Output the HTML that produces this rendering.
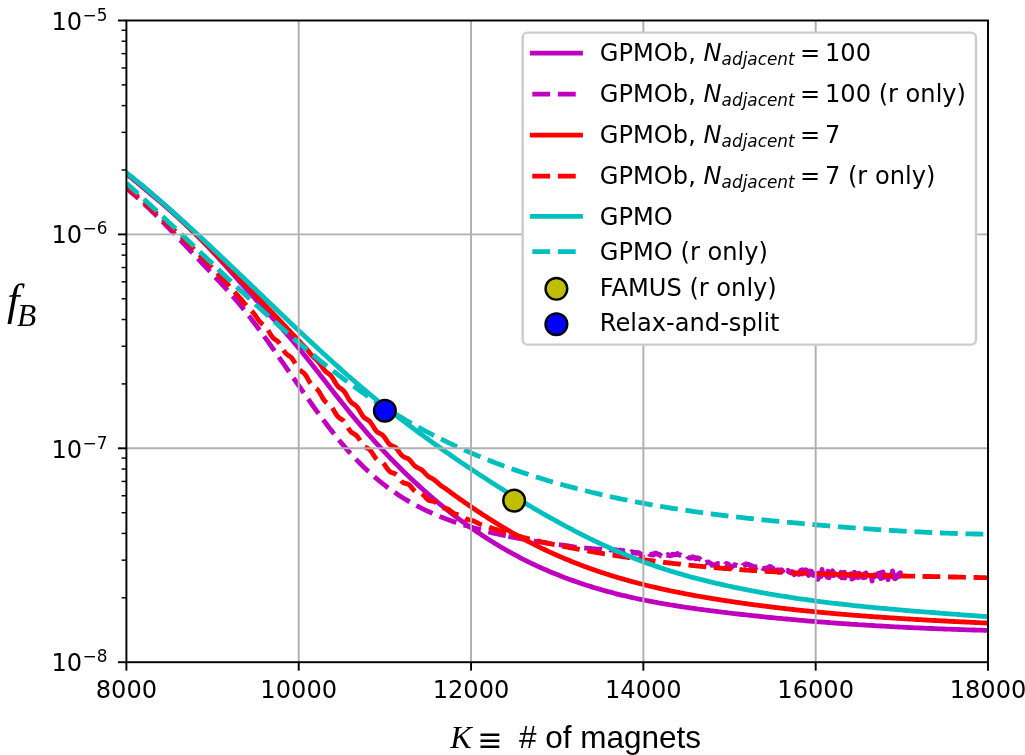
<!DOCTYPE html>
<html lang="en"><head><meta charset="utf-8"><title>f_B vs K</title>
<style>html,body{margin:0;padding:0;background:#fff;}svg{display:block;}text{font-family:"DejaVu Sans","Liberation Sans",sans-serif;fill:#000;}.ob{font-style:oblique;}.ser{font-family:"Liberation Serif","DejaVu Serif",serif;font-style:italic;}.hel{font-family:"Liberation Sans","DejaVu Sans",sans-serif;}</style></head><body>
<svg width="1025" height="755" viewBox="0 0 1025 755">
<rect width="1025" height="755" fill="#fff"/>
<defs><clipPath id="ax"><rect x="126.4" y="20.5" width="861.6" height="641.7"/></clipPath></defs>
<g clip-path="url(#ax)" fill="none" stroke-width="4.83" stroke-linejoin="round">
<path d="M126.4 173.7 L128.4 175.4 L130.4 177.0 L132.4 178.7 L134.4 180.3 L136.4 182.0 L138.4 183.7 L140.4 185.3 L142.4 187.0 L144.4 188.6 L146.4 190.3 L148.4 191.9 L150.4 193.6 L152.4 195.3 L154.4 197.0 L156.4 198.6 L158.4 200.3 L160.4 202.0 L162.4 203.7 L164.4 205.4 L166.4 207.2 L168.4 208.9 L170.4 210.7 L172.4 212.4 L174.4 214.2 L176.4 216.0 L178.4 217.8 L180.4 219.6 L182.4 221.4 L184.4 223.3 L186.4 225.2 L188.4 227.1 L190.4 229.0 L192.4 230.9 L194.4 232.8 L196.4 234.8 L198.4 236.8 L200.4 238.8 L202.4 240.9 L204.4 242.9 L206.4 245.0 L208.4 247.1 L210.4 249.2 L212.4 251.4 L214.4 253.5 L216.4 255.7 L218.4 257.9 L220.4 260.1 L222.4 262.3 L224.4 264.5 L226.4 266.7 L228.4 268.9 L230.4 271.1 L232.4 273.4 L234.4 275.6 L236.4 277.9 L238.4 280.1 L240.4 282.3 L242.4 284.6 L244.4 286.8 L246.4 289.1 L248.4 291.3 L250.4 293.5 L252.4 295.7 L254.4 297.9 L256.4 300.2 L258.4 302.4 L260.4 304.6 L262.4 306.8 L264.4 309.0 L266.4 311.2 L268.4 313.4 L270.4 315.6 L272.4 317.8 L274.4 320.0 L276.4 322.2 L278.4 324.5 L280.4 326.7 L282.4 329.0 L284.4 331.3 L286.4 333.6 L288.4 335.9 L290.4 338.2 L292.4 340.5 L294.4 342.9 L296.4 345.3 L298.4 347.7 L300.4 350.1 L302.4 352.5 L304.4 355.0 L306.4 357.5 L308.4 360.0 L310.4 362.5 L312.4 365.0 L314.4 367.5 L316.4 370.1 L318.4 372.6 L320.4 375.2 L322.4 377.8 L324.4 380.3 L326.4 382.9 L328.4 385.5 L330.4 388.0 L332.4 390.6 L334.4 393.2 L336.4 395.7 L338.4 398.2 L340.4 400.8 L342.4 403.3 L344.4 405.8 L346.4 408.3 L348.4 410.7 L350.4 413.2 L352.4 415.6 L354.4 418.0 L356.4 420.4 L358.4 422.8 L360.4 425.1 L362.4 427.4 L364.4 429.8 L366.4 432.1 L368.4 434.3 L370.4 436.6 L372.4 438.8 L374.4 441.1 L376.4 443.3 L378.4 445.4 L380.4 447.6 L382.4 449.8 L384.4 451.9 L386.4 454.0 L388.4 456.1 L390.4 458.2 L392.4 460.2 L394.4 462.3 L396.4 464.3 L398.4 466.3 L400.4 468.3 L402.4 470.3 L404.4 472.2 L406.4 474.2 L408.4 476.1 L410.4 478.0 L412.4 479.9 L414.4 481.7 L416.4 483.6 L418.4 485.4 L420.4 487.2 L422.4 489.0 L424.4 490.8 L426.4 492.6 L428.4 494.3 L430.4 496.1 L432.4 497.8 L434.4 499.5 L436.4 501.2 L438.4 502.8 L440.4 504.5 L442.4 506.1 L444.4 507.7 L446.4 509.3 L448.4 510.9 L450.4 512.5 L452.4 514.0 L454.4 515.6 L456.4 517.1 L458.4 518.6 L460.4 520.1 L462.4 521.6 L464.4 523.0 L466.4 524.5 L468.4 525.9 L470.4 527.3 L472.4 528.7 L474.4 530.1 L476.4 531.5 L478.4 532.8 L480.4 534.1 L482.4 535.5 L484.4 536.8 L486.4 538.1 L488.4 539.3 L490.4 540.6 L492.4 541.8 L494.4 543.1 L496.4 544.3 L498.4 545.5 L500.4 546.7 L502.4 547.9 L504.4 549.0 L506.4 550.2 L508.4 551.3 L510.4 552.4 L512.4 553.5 L514.4 554.6 L516.4 555.7 L518.4 556.7 L520.4 557.8 L522.4 558.8 L524.4 559.8 L526.4 560.8 L528.4 561.8 L530.4 562.8 L532.4 563.8 L534.4 564.7 L536.4 565.7 L538.4 566.6 L540.4 567.5 L542.4 568.4 L544.4 569.3 L546.4 570.1 L548.4 571.0 L550.4 571.9 L552.4 572.7 L554.4 573.5 L556.4 574.3 L558.4 575.1 L560.4 575.9 L562.4 576.7 L564.4 577.5 L566.4 578.2 L568.4 579.0 L570.4 579.7 L572.4 580.4 L574.4 581.1 L576.4 581.8 L578.4 582.5 L580.4 583.2 L582.4 583.9 L584.4 584.5 L586.4 585.2 L588.4 585.8 L590.4 586.4 L592.4 587.1 L594.4 587.7 L596.4 588.3 L598.4 588.9 L600.4 589.4 L602.4 590.0 L604.4 590.6 L606.4 591.1 L608.4 591.7 L610.4 592.2 L612.4 592.7 L614.4 593.3 L616.4 593.8 L618.4 594.3 L620.4 594.8 L622.4 595.3 L624.4 595.7 L626.4 596.2 L628.4 596.7 L630.4 597.1 L632.4 597.6 L634.4 598.0 L636.4 598.5 L638.4 598.9 L640.4 599.3 L642.4 599.7 L644.4 600.1 L646.4 600.5 L648.4 600.9 L650.4 601.3 L652.4 601.7 L654.4 602.1 L656.4 602.4 L658.4 602.8 L660.4 603.2 L662.4 603.5 L664.4 603.9 L666.4 604.2 L668.4 604.5 L670.4 604.9 L672.4 605.2 L674.4 605.5 L676.4 605.8 L678.4 606.2 L680.4 606.5 L682.4 606.8 L684.4 607.1 L686.4 607.4 L688.4 607.7 L690.4 608.0 L692.4 608.2 L694.4 608.5 L696.4 608.8 L698.4 609.1 L700.4 609.3 L702.4 609.6 L704.4 609.9 L706.4 610.1 L708.4 610.4 L710.4 610.7 L712.4 610.9 L714.4 611.2 L716.4 611.4 L718.4 611.7 L720.4 611.9 L722.4 612.2 L724.4 612.4 L726.4 612.6 L728.4 612.9 L730.4 613.1 L732.4 613.4 L734.4 613.6 L736.4 613.8 L738.4 614.0 L740.4 614.3 L742.4 614.5 L744.4 614.7 L746.4 614.9 L748.4 615.2 L750.4 615.4 L752.4 615.6 L754.4 615.8 L756.4 616.0 L758.4 616.2 L760.4 616.5 L762.4 616.7 L764.4 616.9 L766.4 617.1 L768.4 617.3 L770.4 617.5 L772.4 617.7 L774.4 617.9 L776.4 618.1 L778.4 618.3 L780.4 618.4 L782.4 618.6 L784.4 618.8 L786.4 619.0 L788.4 619.2 L790.4 619.4 L792.4 619.6 L794.4 619.7 L796.4 619.9 L798.4 620.1 L800.4 620.3 L802.4 620.4 L804.4 620.6 L806.4 620.8 L808.4 621.0 L810.4 621.1 L812.4 621.3 L814.4 621.4 L816.4 621.6 L818.4 621.8 L820.4 621.9 L822.4 622.1 L824.4 622.2 L826.4 622.4 L828.4 622.5 L830.4 622.7 L832.4 622.8 L834.4 623.0 L836.4 623.1 L838.4 623.3 L840.4 623.4 L842.4 623.6 L844.4 623.7 L846.4 623.9 L848.4 624.0 L850.4 624.1 L852.4 624.3 L854.4 624.4 L856.4 624.5 L858.4 624.7 L860.4 624.8 L862.4 624.9 L864.4 625.0 L866.4 625.2 L868.4 625.3 L870.4 625.4 L872.4 625.5 L874.4 625.6 L876.4 625.8 L878.4 625.9 L880.4 626.0 L882.4 626.1 L884.4 626.2 L886.4 626.3 L888.4 626.4 L890.4 626.6 L892.4 626.7 L894.4 626.8 L896.4 626.9 L898.4 627.0 L900.4 627.1 L902.4 627.2 L904.4 627.3 L906.4 627.4 L908.4 627.5 L910.4 627.6 L912.4 627.7 L914.4 627.8 L916.4 627.8 L918.4 627.9 L920.4 628.0 L922.4 628.1 L924.4 628.2 L926.4 628.3 L928.4 628.4 L930.4 628.5 L932.4 628.5 L934.4 628.6 L936.4 628.7 L938.4 628.8 L940.4 628.9 L942.4 628.9 L944.4 629.0 L946.4 629.1 L948.4 629.2 L950.4 629.2 L952.4 629.3 L954.4 629.4 L956.4 629.4 L958.4 629.5 L960.4 629.6 L962.4 629.6 L964.4 629.7 L966.4 629.8 L968.4 629.8 L970.4 629.9 L972.4 630.0 L974.4 630.0 L976.4 630.1 L978.4 630.1 L980.4 630.2 L982.4 630.2 L984.4 630.3 L986.4 630.4 L988.0 630.4" stroke="#bf00bf" stroke-linecap="square"/>
<path d="M126.4 188.3 L128.4 189.9 L130.4 191.6 L132.4 193.3 L134.4 195.0 L136.4 196.8 L138.4 198.5 L140.4 200.3 L142.4 202.2 L144.4 204.0 L146.4 205.9 L148.4 207.8 L150.4 209.7 L152.4 211.7 L154.4 213.6 L156.4 215.6 L158.4 217.6 L160.4 219.6 L162.4 221.6 L164.4 223.6 L166.4 225.7 L168.4 227.7 L170.4 229.8 L172.4 231.9 L174.4 233.9 L176.4 236.0 L178.4 238.1 L180.4 240.2 L182.4 242.3 L184.4 244.4 L186.4 246.5 L188.4 248.6 L190.4 250.8 L192.4 252.9 L194.4 255.0 L196.4 257.1 L198.4 259.2 L200.4 261.4 L202.4 263.5 L204.4 265.6 L206.4 267.7 L208.4 269.9 L210.4 272.0 L212.4 274.1 L214.4 276.3 L216.4 278.4 L218.4 280.5 L220.4 282.7 L222.4 284.8 L224.4 286.9 L226.4 289.1 L228.4 291.3 L230.4 293.5 L232.4 295.8 L234.4 298.1 L236.4 300.4 L238.4 302.8 L240.4 305.2 L242.4 307.7 L244.4 310.2 L246.4 312.7 L248.4 315.3 L250.4 317.8 L252.4 320.5 L254.4 323.1 L256.4 325.8 L258.4 328.5 L260.4 331.2 L262.4 333.9 L264.4 336.7 L266.4 339.4 L268.4 342.2 L270.4 345.0 L272.4 347.9 L274.4 350.7 L276.4 353.6 L278.4 356.4 L280.4 359.3 L282.4 362.1 L284.4 365.0 L286.4 367.9 L288.4 370.8 L290.4 373.7 L292.4 376.5 L294.4 379.4 L296.4 382.3 L298.4 385.2 L300.4 388.0 L302.4 390.9 L304.4 393.7 L306.4 396.6 L308.4 399.4 L310.4 402.2 L312.4 405.0 L314.4 407.8 L316.4 410.6 L318.4 413.3 L320.4 416.0 L322.4 418.7 L324.4 421.4 L326.4 424.0 L328.4 426.7 L330.4 429.3 L332.4 431.8 L334.4 434.4 L336.4 436.9 L338.4 439.3 L340.4 441.7 L342.4 444.1 L344.4 446.5 L346.4 448.8 L348.4 451.1 L350.4 453.3 L352.4 455.5 L354.4 457.6 L356.4 459.7 L358.4 461.8 L360.4 463.8 L362.4 465.8 L364.4 467.7 L366.4 469.6 L368.4 471.5 L370.4 473.3 L372.4 475.1 L374.4 476.8 L376.4 478.5 L378.4 480.2 L380.4 481.8 L382.4 483.4 L384.4 484.9 L386.4 486.5 L388.4 488.0 L390.4 489.4 L392.4 490.8 L394.4 492.2 L396.4 493.6 L398.4 494.9 L400.4 496.2 L402.4 497.5 L404.4 498.7 L406.4 499.9 L408.4 501.1 L410.4 502.3 L412.4 503.4 L414.4 504.5 L416.4 505.6 L418.4 506.6 L420.4 507.7 L422.4 508.7 L424.4 509.6 L426.4 510.6 L428.4 511.5 L430.4 512.4 L432.4 513.3 L434.4 514.2 L436.4 515.0 L438.4 515.9 L440.4 516.7 L442.4 517.5 L444.4 518.3 L446.4 519.0 L448.4 519.7 L450.4 520.5 L452.4 521.2 L454.4 521.9 L456.4 522.5 L458.4 523.2 L460.4 523.9 L462.4 524.5 L464.4 525.1 L466.4 525.7 L468.4 526.3 L470.4 526.9 L472.4 527.5 L474.4 528.1 L476.4 528.6 L478.4 529.2 L480.4 529.7 L482.4 530.3 L484.4 530.8 L486.4 531.3 L488.4 531.8 L490.4 532.3 L492.4 532.8 L494.4 533.3 L496.4 533.7 L498.4 534.2 L500.4 534.6 L502.4 535.1 L504.4 535.5 L506.4 536.0" stroke="#bf00bf" stroke-dasharray="17.85 7.72" stroke-dashoffset="2"/>
<path d="M508.4 536.4 L510.4 536.8 L512.4 537.2 L514.4 537.6 L516.4 538.0 L518.4 538.4 L520.4 538.7 L522.4 539.1 L524.4 539.5 L526.4 539.8 L528.4 540.2 L530.4 540.5 L532.4 540.8 L534.4 541.2 L536.4 541.5 L538.4 541.8 L540.4 542.1 L542.4 542.4 L544.4 542.7 L546.4 543.0 L548.4 543.3 L550.4 543.5 L552.4 543.8 L554.4 544.1 L556.4 544.3 L558.4 544.6 L560.4 544.8 L562.4 545.1 L564.4 545.4 L566.4 545.7 L568.4 546.0 L570.4 546.3 L572.4 546.6 L574.4 546.9 L576.4 547.1 L578.4 547.4 L580.4 547.6 L582.4 547.8 L584.4 548.0 L586.4 548.2 L588.4 548.4 L590.4 548.5 L592.4 548.7 L594.4 548.8 L596.4 549.0 L598.4 549.1 L600.0 549.2 L600.5 549.3 L601.0 549.3 L601.5 549.3 L602.0 549.4 L602.5 549.4 L603.0 549.4 L603.5 549.5 L604.0 549.5 L604.5 549.5 L605.0 549.6 L605.5 549.6 L606.0 549.5 L606.5 549.7 L607.0 549.4 L607.5 549.6 L608.0 549.7 L608.5 549.6 L609.0 549.7 L609.5 549.6 L610.0 549.7 L610.5 550.1 L611.0 549.8 L611.5 549.8 L612.0 550.0 L612.5 549.8 L613.0 550.0 L613.5 550.0 L614.0 550.2 L614.5 549.7 L615.0 550.1 L615.5 550.0 L616.0 549.9 L616.5 550.3 L617.0 550.0 L617.5 550.5 L618.0 550.3 L618.5 550.4 L619.0 550.3 L619.5 550.5 L620.0 550.0 L620.5 550.4 L621.0 550.3 L621.5 550.6 L622.0 550.6 L622.5 550.8 L623.0 550.5 L623.5 551.2 L624.0 551.4 L624.5 550.8 L625.0 550.8 L625.5 550.9 L626.0 551.3 L626.5 551.5 L627.0 550.7 L627.5 551.0 L628.0 550.9 L628.5 551.0 L629.0 550.9 L629.5 551.6 L630.0 551.2 L630.5 552.2 L631.0 552.1 L631.5 551.6 L632.0 551.7 L632.5 552.0 L633.0 552.8 L633.5 552.2 L634.0 552.1 L634.5 552.7 L635.0 552.9 L635.5 552.6 L636.0 553.3 L636.5 552.9 L637.0 553.0 L637.5 552.6 L638.0 553.0 L638.5 553.1 L639.0 552.7 L639.5 553.8 L640.0 553.5 L640.5 554.3 L641.0 554.1 L641.5 555.3 L642.0 554.8 L642.5 555.0 L643.0 555.0 L643.5 554.3 L644.0 553.9 L644.5 554.5 L645.0 554.8 L645.5 554.5 L646.0 554.7 L646.5 554.7 L647.0 553.9 L647.5 554.4 L648.0 554.8 L648.5 554.0 L649.0 553.6 L649.5 554.3 L650.0 554.3 L650.5 554.7 L651.0 554.4 L651.5 554.8 L652.0 554.0 L652.5 555.0 L653.0 555.1 L653.5 554.9 L654.0 553.8 L654.5 554.2 L655.0 553.0 L655.5 553.8 L656.0 553.6 L656.5 553.2 L657.0 553.7 L657.5 553.8 L658.0 554.4 L658.5 554.5 L659.0 554.9 L659.5 554.5 L660.0 555.0 L660.5 555.4 L661.0 555.8 L661.5 555.8 L662.0 556.3 L662.5 555.5 L663.0 555.6 L663.5 555.7 L664.0 555.4 L664.5 555.5 L665.0 555.1 L665.5 555.6 L666.0 554.9 L666.5 555.2 L667.0 554.8 L667.5 555.3 L668.0 554.5 L668.5 555.3 L669.0 555.1 L669.5 555.4 L670.0 555.8 L670.5 555.1 L671.0 554.9 L671.5 554.9 L672.0 555.2 L672.5 554.3 L673.0 554.8 L673.5 554.3 L674.0 554.3 L674.5 554.6 L675.0 554.8 L675.5 554.5 L676.0 554.5 L676.5 554.5 L677.0 554.3 L677.5 553.5 L678.0 554.2 L678.5 554.3 L679.0 554.7 L679.5 555.2 L680.0 554.9 L680.5 555.0 L681.0 554.9 L681.5 555.4 L682.0 555.6 L682.5 555.7 L683.0 554.8 L683.5 555.0 L684.0 555.1 L684.5 555.5 L685.0 555.0 L685.5 554.9 L686.0 555.1 L686.5 555.5 L687.0 555.8 L687.5 556.7 L688.0 557.1 L688.5 557.4 L689.0 557.9 L689.5 557.6 L690.0 558.0 L690.5 557.8 L691.0 557.8 L691.5 558.1 L692.0 557.5 L692.5 556.8 L693.0 557.3 L693.5 557.2 L694.0 557.1 L694.5 557.5 L695.0 558.4 L695.5 558.8 L696.0 558.3 L696.5 558.7 L697.0 558.7 L697.5 557.9 L698.0 558.4 L698.5 558.5 L699.0 558.8 L699.5 558.5 L700.0 559.1 L700.5 559.8 L701.0 560.0 L701.5 560.4 L702.0 559.9 L702.5 560.8 L703.0 560.7 L703.5 560.4 L704.0 561.5 L704.5 561.6 L705.0 562.3 L705.5 562.3 L706.0 562.8 L706.5 562.4 L707.0 562.0 L707.5 562.3 L708.0 562.1 L708.5 562.0 L709.0 562.8 L709.5 562.6 L710.0 563.0 L710.5 563.5 L711.0 563.6 L711.5 564.2 L712.0 565.3 L712.5 564.6 L713.0 565.0 L713.5 564.7 L714.0 564.9 L714.5 565.5 L715.0 565.1 L715.5 564.4 L716.0 564.4 L716.5 563.9 L717.0 563.7 L717.5 563.6 L718.0 563.5 L718.5 563.9 L719.0 564.1 L719.5 564.2 L720.0 564.1 L720.5 563.8 L721.0 564.3 L721.5 564.2 L722.0 564.9 L722.5 564.9 L723.0 565.1 L723.5 564.9 L724.0 564.4 L724.5 565.2 L725.0 565.1 L725.5 564.0 L726.0 564.3 L726.5 564.4 L727.0 563.6 L727.5 564.6 L728.0 564.1 L728.5 564.3 L729.0 565.6 L729.5 565.9 L730.0 566.1 L730.5 567.0 L731.0 566.2 L731.5 567.4 L732.0 566.4 L732.5 566.5 L733.0 565.9 L733.5 565.8 L734.0 565.7 L734.5 564.9 L735.0 565.3 L735.5 564.9 L736.0 564.9 L736.5 565.3 L737.0 565.3 L737.5 565.6 L738.0 566.4 L738.5 566.2 L739.0 566.7 L739.5 566.4 L740.0 565.9 L740.5 565.5 L741.0 565.8 L741.5 566.0 L742.0 565.9 L742.5 565.5 L743.0 566.0 L743.5 564.9 L744.0 564.7 L744.5 564.8 L745.0 565.2 L745.5 564.4 L746.0 563.8 L746.5 564.2 L747.0 564.3 L747.5 564.5 L748.0 564.2 L748.5 564.3 L749.0 564.7 L749.5 565.0 L750.0 565.5 L750.5 565.9 L751.0 565.2 L751.5 565.6 L752.0 566.0 L752.5 566.1 L753.0 566.6 L753.5 566.7 L754.0 566.8 L754.5 567.2 L755.0 566.9 L755.5 566.7 L756.0 566.7 L756.5 567.0 L757.0 567.1 L757.5 566.8 L758.0 567.6 L758.5 567.4 L759.0 567.1 L759.5 566.9 L760.0 566.7 L760.5 567.0 L761.0 568.0 L761.5 566.8 L762.0 567.9 L762.5 568.4 L763.0 568.4 L763.5 568.4 L764.0 569.0 L764.5 568.2 L765.0 568.9 L765.5 569.2 L766.0 567.9 L766.5 567.9 L767.0 568.2 L767.5 568.5 L768.0 568.6 L768.5 568.0 L769.0 567.0 L769.5 566.6 L770.0 567.2 L770.5 567.4 L771.0 566.7 L771.5 567.6 L772.0 568.2 L772.5 569.1 L773.0 568.2 L773.5 569.6 L774.0 568.7 L774.5 569.4 L775.0 569.7 L775.5 570.9 L776.0 572.3 L776.5 570.3 L777.0 570.8 L777.5 571.4 L778.0 569.8 L778.5 571.5 L779.0 570.0 L779.5 572.2 L780.0 572.0 L780.5 571.1 L781.0 569.8 L781.5 571.8 L782.0 570.5 L782.5 570.3 L783.0 570.7 L783.5 568.7 L784.0 570.5 L784.5 571.1 L785.0 570.6 L785.5 570.5 L786.0 569.7 L786.5 571.4 L787.0 571.1 L787.5 570.9 L788.0 570.4 L788.5 571.8 L789.0 572.2 L789.5 571.3 L790.0 571.9 L790.5 572.4 L791.0 572.9 L791.5 571.7 L792.0 571.6 L792.5 571.7 L793.0 572.7 L793.5 573.7 L794.0 574.6 L794.5 573.3 L795.0 574.3 L795.5 573.1 L796.0 575.8 L796.5 573.7 L797.0 574.4 L797.5 572.6 L798.0 572.7 L798.5 571.8 L799.0 574.5 L799.5 572.5 L800.0 571.7 L800.5 570.6 L801.0 571.0 L801.5 572.5 L802.0 573.9 L802.5 569.7 L803.0 570.3 L803.5 571.2 L804.0 570.6 L804.5 569.2 L805.0 571.7 L805.5 573.0 L806.0 569.8 L806.5 572.5 L807.0 573.6 L807.5 573.6 L808.0 571.5 L808.5 575.5 L809.0 572.9 L809.5 570.9 L810.0 573.8 L810.5 570.8 L811.0 574.2 L811.5 571.1 L812.0 574.5 L812.5 572.5 L813.0 575.3 L813.5 574.7 L814.0 574.3 L814.5 573.7 L815.0 575.4 L815.5 570.6 L816.0 574.2 L816.5 574.0 L817.0 574.1 L817.5 574.4 L818.0 579.4 L818.5 573.2 L819.0 574.5 L819.5 573.4 L820.0 576.1 L820.5 569.8 L821.0 576.6 L821.5 572.4 L822.0 569.5 L822.5 571.7 L823.0 573.3 L823.5 574.1 L824.0 573.8 L824.5 575.6 L825.0 574.3 L825.5 574.4 L826.0 570.6 L826.5 575.8 L827.0 576.9 L827.5 574.1 L828.0 571.2 L828.5 572.1 L829.0 577.9 L829.5 573.2 L830.0 572.9 L830.5 572.4 L831.0 575.4 L831.5 572.8 L832.0 572.2 L832.5 570.8 L833.0 573.5 L833.5 575.6 L834.0 573.2 L834.5 575.2 L835.0 573.7 L835.5 573.7 L836.0 573.8 L836.5 573.7 L837.0 576.0 L837.5 575.2 L838.0 573.4 L838.5 575.2 L839.0 574.9 L839.5 576.2 L840.0 575.6 L840.5 576.0 L841.0 572.2 L841.5 575.9 L842.0 577.9 L842.5 572.6 L843.0 578.6 L843.5 576.1 L844.0 575.2 L844.5 572.1 L845.0 578.0 L845.5 573.8 L846.0 574.6 L846.5 576.5 L847.0 573.1 L847.5 572.9 L848.0 572.2 L848.5 574.2 L849.0 575.5 L849.5 575.2 L850.0 575.4 L850.5 574.1 L851.0 575.3 L851.5 573.7 L852.0 579.2 L852.5 575.6 L853.0 571.1 L853.5 572.8 L854.0 578.1 L854.5 572.1 L855.0 574.1 L855.5 576.0 L856.0 573.1 L856.5 577.6 L857.0 578.9 L857.5 573.8 L858.0 577.7 L858.5 573.5 L859.0 573.2 L859.5 575.6 L860.0 575.6 L860.5 574.0 L861.0 577.0 L861.5 572.5 L862.0 573.9 L862.5 573.7 L863.0 577.6 L863.5 577.8 L864.0 577.7 L864.5 573.8 L865.0 576.7 L865.5 577.3 L866.0 573.0 L866.5 574.5 L867.0 577.5 L867.5 577.7 L868.0 576.9 L868.5 577.6 L869.0 577.3 L869.5 577.0 L870.0 576.5 L870.5 575.0 L871.0 576.2 L871.5 575.8 L872.0 581.1 L872.5 576.8 L873.0 576.0 L873.5 575.3 L874.0 575.3 L874.5 574.9 L875.0 576.4 L875.5 575.2 L876.0 576.9 L876.5 573.9 L877.0 576.2 L877.5 577.4 L878.0 573.5 L878.5 576.3 L879.0 576.7 L879.5 575.7 L880.0 575.4 L880.5 572.7 L881.0 578.7 L881.5 574.4 L882.0 573.7 L882.5 577.3 L883.0 572.0 L883.5 577.5 L884.0 576.3 L884.5 576.5 L885.0 575.0 L885.5 573.1 L886.0 571.9 L886.5 578.8 L887.0 575.1 L887.5 575.3 L888.0 579.7 L888.5 575.5 L889.0 576.4 L889.5 576.4 L890.0 576.6 L890.5 574.8 L891.0 575.7 L891.5 579.4 L892.0 578.3 L892.5 570.8 L893.0 572.9 L893.5 577.5 L894.0 576.6 L894.5 576.0 L895.0 578.8 L895.5 572.8 L896.0 578.4 L896.5 575.7 L897.0 576.2 L897.5 575.3 L898.0 576.3 L898.5 574.1 L899.0 573.6 L899.5 576.4 L900.0 575.3 L900.5 572.7 L901.0 578.1 L901.5 578.1 L902.0 578.7 L902.5 576.0 L903.0 576.7" stroke="#bf00bf" stroke-dasharray="17.85 7.72" stroke-dashoffset="0.0"/>
<path d="M126.4 173.4 L127.4 174.2 L128.4 174.9 L129.4 175.7 L130.4 176.5 L131.4 177.2 L132.4 178.0 L133.4 178.8 L134.4 179.6 L135.4 180.4 L136.4 181.2 L137.4 182.0 L138.4 182.8 L139.4 183.6 L140.4 184.4 L141.4 185.2 L142.4 186.0 L143.4 186.8 L144.4 187.6 L145.4 188.5 L146.4 189.3 L147.4 190.1 L148.4 191.0 L149.4 191.8 L150.4 192.7 L151.4 193.5 L152.4 194.4 L153.4 195.2 L154.4 196.1 L155.4 196.9 L156.4 197.8 L157.4 198.7 L158.4 199.5 L159.4 200.4 L160.4 201.3 L161.4 202.2 L162.4 203.1 L163.4 204.0 L164.4 204.8 L165.4 205.7 L166.4 206.6 L167.4 207.5 L168.4 208.4 L169.4 209.3 L170.4 210.3 L171.4 211.2 L172.4 212.1 L173.4 213.0 L174.4 213.9 L175.4 214.8 L176.4 215.8 L177.4 216.7 L178.4 217.6 L179.4 218.6 L180.4 219.5 L181.4 220.4 L182.4 221.4 L183.4 222.3 L184.4 223.3 L185.4 224.2 L186.4 225.2 L187.4 226.1 L188.4 227.1 L189.4 228.0 L190.4 229.0 L191.4 230.0 L192.4 230.9 L193.4 231.9 L194.4 232.9 L195.4 233.8 L196.4 234.8 L197.4 235.8 L198.4 236.8 L199.4 237.7 L200.4 238.7 L201.4 239.7 L202.4 240.7 L203.4 241.7 L204.4 242.7 L205.4 243.7 L206.4 244.6 L207.4 245.6 L208.4 246.6 L209.4 247.6 L210.4 248.6 L211.4 249.6 L212.4 250.6 L213.4 251.6 L214.4 252.7 L215.4 253.7 L216.4 254.7 L217.4 255.7 L218.4 256.7 L219.4 257.7 L220.4 258.7 L221.4 259.7 L222.4 260.8 L223.4 261.8 L224.4 262.8 L225.4 263.8 L226.4 264.9 L227.4 265.9 L228.4 266.9 L229.4 267.9 L230.4 269.0 L231.4 270.0 L232.4 271.0 L233.4 272.1 L234.4 273.1 L235.4 274.1 L236.4 275.2 L237.4 276.2 L238.4 277.2 L239.4 278.3 L240.4 279.3 L241.4 280.3 L242.4 281.4 L243.4 282.4 L244.4 283.5 L245.4 284.5 L246.4 285.5 L247.4 286.6 L248.4 287.6 L249.4 288.7 L250.4 289.7 L251.4 290.8 L252.4 291.8 L253.4 292.9 L254.4 293.9 L255.4 295.0 L256.4 296.0 L257.4 297.1 L258.4 298.1 L259.4 299.1 L260.4 300.2 L261.4 301.2 L262.4 302.3 L263.4 303.3 L264.4 304.4 L265.4 305.4 L266.4 306.5 L267.4 307.5 L268.4 308.6 L269.4 309.6 L270.4 310.7 L271.4 311.7 L272.4 312.8 L273.4 313.8 L274.4 314.9 L275.4 315.9 L276.4 317.0 L277.4 318.0 L278.4 319.1 L279.4 320.1 L280.4 321.2 L281.4 322.2 L282.4 323.3 L283.4 324.4 L284.4 325.4 L285.4 326.5 L286.4 327.5 L287.4 328.6 L288.4 329.6 L289.4 330.7 L290.4 331.8 L291.4 332.8 L292.4 333.9 L293.4 335.0 L294.4 336.0 L295.4 337.1 L296.4 338.2 L297.4 339.3 L298.4 340.3 L299.4 341.4 L300.4 342.5 L301.4 343.6 L302.4 344.6 L303.4 345.7 L304.4 346.7 L305.4 347.7 L306.4 348.8 L307.4 350.0 L308.4 351.2 L309.4 352.5 L310.4 353.7 L311.4 354.9 L312.4 356.0 L313.4 357.0 L314.4 357.9 L315.4 358.8 L316.4 359.7 L317.4 360.7 L318.4 361.7 L319.4 363.0 L320.4 364.4 L321.4 365.8 L322.4 367.3 L323.4 368.8 L324.4 370.1 L325.4 371.2 L326.4 372.1 L327.4 372.9 L328.4 373.6 L329.4 374.3 L330.4 375.2 L331.4 376.3 L332.4 377.7 L333.4 379.3 L334.4 381.0 L335.4 382.8 L336.4 384.4 L337.4 385.7 L338.4 386.8 L339.4 387.7 L340.4 388.3 L341.4 389.0 L342.4 389.7 L343.4 390.6 L344.4 391.8 L345.4 393.2 L346.4 394.9 L347.4 396.7 L348.4 398.4 L349.4 400.0 L350.4 401.4 L351.4 402.5 L352.4 403.3 L353.4 404.0 L354.4 404.6 L355.4 405.3 L356.4 406.2 L357.4 407.3 L358.4 408.7 L359.4 410.4 L360.4 412.1 L361.4 413.8 L362.4 415.4 L363.4 416.7 L364.4 417.7 L365.4 418.5 L366.4 419.1 L367.4 419.7 L368.4 420.3 L369.4 421.1 L370.4 422.2 L371.4 423.6 L372.4 425.1 L373.4 426.8 L374.4 428.4 L375.4 429.9 L376.4 431.1 L377.4 432.1 L378.4 432.7 L379.4 433.3 L380.4 433.7 L381.4 434.3 L382.4 435.0 L383.4 436.0 L384.4 437.2 L385.4 438.6 L386.4 440.2 L387.4 441.7 L388.4 443.1 L389.4 444.2 L390.4 445.0 L391.4 445.6 L392.4 446.0 L393.4 446.4 L394.4 446.8 L395.4 447.4 L396.4 448.3 L397.4 449.5 L398.4 450.8 L399.4 452.3 L400.4 453.7 L401.4 454.9 L402.4 455.9 L403.4 456.7 L404.4 457.2 L405.4 457.6 L406.4 457.9 L407.4 458.3 L408.4 458.9 L409.4 459.8 L410.4 460.8 L411.4 462.0 L412.4 463.3 L413.4 464.5 L414.4 465.6 L415.4 466.5 L416.4 467.2 L417.4 467.7 L418.4 468.2 L419.4 468.6 L420.4 469.1 L421.4 469.7 L422.4 470.5 L423.4 471.4 L424.4 472.5 L425.4 473.6 L426.4 474.6 L427.4 475.6 L428.4 476.4 L429.4 477.1 L430.4 477.7 L431.4 478.2 L432.4 478.7 L433.4 479.3 L434.4 480.0 L435.4 480.7 L436.4 481.6 L437.4 482.5 L438.4 483.4 L439.4 484.3 L440.4 485.2 L441.4 485.9 L442.4 486.6 L443.4 487.3 L444.4 487.9 L445.4 488.5 L446.4 489.2 L447.4 489.9 L448.4 490.7 L449.4 491.4 L450.4 492.2 L451.4 493.0 L452.4 493.7 L453.4 494.4 L454.4 495.1 L455.4 495.9 L456.4 496.6 L457.4 497.3 L458.4 498.0 L459.4 498.7 L460.4 499.4 L461.4 500.1 L462.4 500.8 L463.4 501.5 L464.4 502.2 L465.4 502.9 L466.4 503.6 L467.4 504.3 L468.4 505.0 L469.4 505.7 L470.4 506.3 L471.4 507.0 L472.4 507.7 L473.4 508.4 L474.4 509.0 L475.4 509.7 L476.4 510.4 L477.4 511.1 L478.4 511.7 L479.4 512.4 L480.4 513.0 L481.4 513.7 L482.4 514.4 L483.4 515.0 L484.4 515.7 L485.4 516.3 L486.4 516.9 L487.4 517.6 L488.4 518.2 L489.4 518.9 L490.4 519.5 L491.4 520.1 L492.4 520.8 L493.4 521.4 L494.4 522.0 L495.4 522.6 L496.4 523.2 L497.4 523.9 L498.4 524.5 L499.4 525.1 L500.4 525.7 L501.4 526.3 L502.4 526.9 L503.4 527.5 L504.4 528.1 L505.4 528.7 L506.4 529.3 L507.4 529.9 L508.4 530.4 L509.4 531.0 L510.4 531.6 L511.4 532.2 L512.4 532.8 L513.4 533.3 L514.4 533.9 L515.4 534.5 L516.4 535.0 L517.4 535.6 L518.4 536.1 L519.4 536.7 L520.4 537.2 L521.4 537.8 L522.4 538.3 L523.4 538.9 L524.4 539.4 L525.4 539.9 L526.4 540.5 L527.4 541.0 L528.4 541.5 L529.4 542.0 L530.4 542.6 L531.4 543.1 L532.4 543.6 L533.4 544.1 L534.4 544.6 L535.4 545.1 L536.4 545.6 L537.4 546.1 L538.4 546.6 L539.4 547.1 L540.4 547.6 L541.4 548.1 L542.4 548.6 L543.4 549.0 L544.4 549.5 L545.4 550.0 L546.4 550.5 L547.4 550.9 L548.4 551.4 L549.4 551.9 L550.4 552.3 L551.4 552.8 L552.4 553.2 L553.4 553.7 L554.4 554.1 L555.4 554.6 L556.4 555.0 L557.4 555.5 L558.4 555.9 L559.4 556.3 L560.4 556.8 L561.4 557.2 L562.4 557.6 L563.4 558.1 L564.4 558.5 L565.4 558.9 L566.4 559.3 L567.4 559.7 L568.4 560.1 L569.4 560.5 L570.4 561.0 L571.4 561.4 L572.4 561.8 L573.4 562.2 L574.4 562.6 L575.4 562.9 L576.4 563.3 L577.4 563.7 L578.4 564.1 L579.4 564.5 L580.4 564.9 L581.4 565.3 L582.4 565.6 L583.4 566.0 L584.4 566.4 L585.4 566.8 L586.4 567.1 L587.4 567.5 L588.4 567.9 L589.4 568.2 L590.4 568.6 L591.4 568.9 L592.4 569.3 L593.4 569.6 L594.4 570.0 L595.4 570.3 L596.4 570.7 L597.4 571.0 L598.4 571.4 L599.4 571.7 L600.4 572.0 L601.4 572.4 L602.4 572.7 L603.4 573.0 L604.4 573.3 L605.4 573.7 L606.4 574.0 L607.4 574.3 L608.4 574.6 L609.4 574.9 L610.4 575.3 L611.4 575.6 L612.4 575.9 L613.4 576.2 L614.4 576.5 L615.4 576.8 L616.4 577.1 L617.4 577.4 L618.4 577.7 L619.4 578.0 L620.4 578.3 L621.4 578.6 L622.4 578.9 L623.4 579.2 L624.4 579.4 L625.4 579.7 L626.4 580.0 L627.4 580.3 L628.4 580.6 L629.4 580.9 L630.4 581.1 L631.4 581.4 L632.4 581.7 L633.4 581.9 L634.4 582.2 L635.4 582.5 L636.4 582.7 L637.4 583.0 L638.4 583.3 L639.4 583.5 L640.4 583.8 L641.4 584.0 L642.4 584.3 L643.4 584.5 L644.4 584.8 L645.4 585.0 L646.4 585.3 L647.4 585.5 L648.4 585.8 L649.4 586.0 L650.4 586.3 L651.4 586.5 L652.4 586.7 L653.4 587.0 L654.4 587.2 L655.4 587.4 L656.4 587.7 L657.4 587.9 L658.4 588.1 L659.4 588.4 L660.4 588.6 L661.4 588.8 L662.4 589.0 L663.4 589.3 L664.4 589.5 L665.4 589.7 L666.4 589.9 L667.4 590.1 L668.4 590.3 L669.4 590.5 L670.4 590.8 L671.4 591.0 L672.4 591.2 L673.4 591.4 L674.4 591.6 L675.4 591.8 L676.4 592.0 L677.4 592.2 L678.4 592.4 L679.4 592.6 L680.4 592.8 L681.4 593.0 L682.4 593.2 L683.4 593.4 L684.4 593.6 L685.4 593.8 L686.4 594.0 L687.4 594.2 L688.4 594.3 L689.4 594.5 L690.4 594.7 L691.4 594.9 L692.4 595.1 L693.4 595.3 L694.4 595.5 L695.4 595.6 L696.4 595.8 L697.4 596.0 L698.4 596.2 L699.4 596.3 L700.4 596.5 L701.4 596.7 L702.4 596.9 L703.4 597.0 L704.4 597.2 L705.4 597.4 L706.4 597.6 L707.4 597.7 L708.4 597.9 L709.4 598.1 L710.4 598.2 L711.4 598.4 L712.4 598.6 L713.4 598.7 L714.4 598.9 L715.4 599.1 L716.4 599.2 L717.4 599.4 L718.4 599.5 L719.4 599.7 L720.4 599.9 L721.4 600.0 L722.4 600.2 L723.4 600.3 L724.4 600.5 L725.4 600.6 L726.4 600.8 L727.4 600.9 L728.4 601.1 L729.4 601.2 L730.4 601.4 L731.4 601.5 L732.4 601.7 L733.4 601.8 L734.4 602.0 L735.4 602.1 L736.4 602.3 L737.4 602.4 L738.4 602.6 L739.4 602.7 L740.4 602.9 L741.4 603.0 L742.4 603.2 L743.4 603.3 L744.4 603.4 L745.4 603.6 L746.4 603.7 L747.4 603.9 L748.4 604.0 L749.4 604.1 L750.4 604.3 L751.4 604.4 L752.4 604.5 L753.4 604.7 L754.4 604.8 L755.4 604.9 L756.4 605.1 L757.4 605.2 L758.4 605.3 L759.4 605.5 L760.4 605.6 L761.4 605.7 L762.4 605.9 L763.4 606.0 L764.4 606.1 L765.4 606.2 L766.4 606.4 L767.4 606.5 L768.4 606.6 L769.4 606.7 L770.4 606.9 L771.4 607.0 L772.4 607.1 L773.4 607.2 L774.4 607.4 L775.4 607.5 L776.4 607.6 L777.4 607.7 L778.4 607.8 L779.4 607.9 L780.4 608.1 L781.4 608.2 L782.4 608.3 L783.4 608.4 L784.4 608.5 L785.4 608.6 L786.4 608.8 L787.4 608.9 L788.4 609.0 L789.4 609.1 L790.4 609.2 L791.4 609.3 L792.4 609.4 L793.4 609.5 L794.4 609.6 L795.4 609.8 L796.4 609.9 L797.4 610.0 L798.4 610.1 L799.4 610.2 L800.4 610.3 L801.4 610.4 L802.4 610.5 L803.4 610.6 L804.4 610.7 L805.4 610.8 L806.4 610.9 L807.4 611.0 L808.4 611.1 L809.4 611.2 L810.4 611.3 L811.4 611.4 L812.4 611.5 L813.4 611.6 L814.4 611.7 L815.4 611.8 L816.4 611.9 L817.4 612.0 L818.4 612.1 L819.4 612.2 L820.4 612.3 L821.4 612.4 L822.4 612.5 L823.4 612.6 L824.4 612.7 L825.4 612.8 L826.4 612.9 L827.4 612.9 L828.4 613.0 L829.4 613.1 L830.4 613.2 L831.4 613.3 L832.4 613.4 L833.4 613.5 L834.4 613.6 L835.4 613.7 L836.4 613.8 L837.4 613.8 L838.4 613.9 L839.4 614.0 L840.4 614.1 L841.4 614.2 L842.4 614.3 L843.4 614.4 L844.4 614.4 L845.4 614.5 L846.4 614.6 L847.4 614.7 L848.4 614.8 L849.4 614.8 L850.4 614.9 L851.4 615.0 L852.4 615.1 L853.4 615.2 L854.4 615.3 L855.4 615.3 L856.4 615.4 L857.4 615.5 L858.4 615.6 L859.4 615.6 L860.4 615.7 L861.4 615.8 L862.4 615.9 L863.4 615.9 L864.4 616.0 L865.4 616.1 L866.4 616.2 L867.4 616.2 L868.4 616.3 L869.4 616.4 L870.4 616.5 L871.4 616.5 L872.4 616.6 L873.4 616.7 L874.4 616.8 L875.4 616.8 L876.4 616.9 L877.4 617.0 L878.4 617.0 L879.4 617.1 L880.4 617.2 L881.4 617.2 L882.4 617.3 L883.4 617.4 L884.4 617.5 L885.4 617.5 L886.4 617.6 L887.4 617.7 L888.4 617.7 L889.4 617.8 L890.4 617.9 L891.4 617.9 L892.4 618.0 L893.4 618.0 L894.4 618.1 L895.4 618.2 L896.4 618.2 L897.4 618.3 L898.4 618.4 L899.4 618.4 L900.4 618.5 L901.4 618.6 L902.4 618.6 L903.4 618.7 L904.4 618.7 L905.4 618.8 L906.4 618.9 L907.4 618.9 L908.4 619.0 L909.4 619.0 L910.4 619.1 L911.4 619.2 L912.4 619.2 L913.4 619.3 L914.4 619.3 L915.4 619.4 L916.4 619.5 L917.4 619.5 L918.4 619.6 L919.4 619.6 L920.4 619.7 L921.4 619.7 L922.4 619.8 L923.4 619.9 L924.4 619.9 L925.4 620.0 L926.4 620.0 L927.4 620.1 L928.4 620.1 L929.4 620.2 L930.4 620.3 L931.4 620.3 L932.4 620.4 L933.4 620.4 L934.4 620.5 L935.4 620.5 L936.4 620.6 L937.4 620.6 L938.4 620.7 L939.4 620.7 L940.4 620.8 L941.4 620.8 L942.4 620.9 L943.4 620.9 L944.4 621.0 L945.4 621.0 L946.4 621.1 L947.4 621.2 L948.4 621.2 L949.4 621.3 L950.4 621.3 L951.4 621.4 L952.4 621.4 L953.4 621.5 L954.4 621.5 L955.4 621.6 L956.4 621.6 L957.4 621.7 L958.4 621.7 L959.4 621.8 L960.4 621.8 L961.4 621.9 L962.4 621.9 L963.4 621.9 L964.4 622.0 L965.4 622.0 L966.4 622.1 L967.4 622.1 L968.4 622.2 L969.4 622.2 L970.4 622.3 L971.4 622.3 L972.4 622.4 L973.4 622.4 L974.4 622.5 L975.4 622.5 L976.4 622.6 L977.4 622.6 L978.4 622.7 L979.4 622.7 L980.4 622.8 L981.4 622.8 L982.4 622.8 L983.4 622.9 L984.4 622.9 L985.4 623.0 L986.4 623.0 L987.4 623.1 L988.0 623.1" stroke="#ff0000" stroke-linecap="square"/>
<path d="M126.4 186.2 L127.4 187.1 L128.4 188.0 L129.4 188.9 L130.4 189.8 L131.4 190.7 L132.4 191.6 L133.4 192.5 L134.4 193.4 L135.4 194.3 L136.4 195.2 L137.4 196.1 L138.4 197.0 L139.4 197.9 L140.4 198.8 L141.4 199.7 L142.4 200.6 L143.4 201.5 L144.4 202.4 L145.4 203.3 L146.4 204.2 L147.4 205.1 L148.4 206.1 L149.4 207.0 L150.4 207.9 L151.4 208.8 L152.4 209.7 L153.4 210.6 L154.4 211.5 L155.4 212.5 L156.4 213.4 L157.4 214.3 L158.4 215.2 L159.4 216.2 L160.4 217.1 L161.4 218.0 L162.4 218.9 L163.4 219.9 L164.4 220.8 L165.4 221.7 L166.4 222.7 L167.4 223.6 L168.4 224.5 L169.4 225.5 L170.4 226.4 L171.4 227.4 L172.4 228.3 L173.4 229.3 L174.4 230.2 L175.4 231.2 L176.4 232.1 L177.4 233.1 L178.4 234.0 L179.4 235.0 L180.4 236.0 L181.4 236.9 L182.4 237.9 L183.4 238.9 L184.4 239.8 L185.4 240.8 L186.4 241.8 L187.4 242.7 L188.4 243.7 L189.4 244.7 L190.4 245.7 L191.4 246.7 L192.4 247.7 L193.4 248.7 L194.4 249.7 L195.4 250.6 L196.4 251.6 L197.4 252.6 L198.4 253.7 L199.4 254.7 L200.4 255.7 L201.4 256.7 L202.4 257.7 L203.4 258.7 L204.4 259.7 L205.4 260.8 L206.4 261.8 L207.4 262.8 L208.4 263.8 L209.4 264.9 L210.4 265.9 L211.4 267.0 L212.4 268.0 L213.4 269.0 L214.4 270.1 L215.4 271.2 L216.4 272.2 L217.4 273.3 L218.4 274.3 L219.4 275.4 L220.4 276.5 L221.4 277.5 L222.4 278.6 L223.4 279.7 L224.4 280.8 L225.4 281.9 L226.4 283.0 L227.4 284.1 L228.4 285.1 L229.4 286.2 L230.4 287.4 L231.4 288.5 L232.4 289.6 L233.4 290.7 L234.4 291.8 L235.4 292.9 L236.4 294.0 L237.4 295.1 L238.4 296.3 L239.4 297.4 L240.4 298.5 L241.4 299.6 L242.4 300.8 L243.4 301.9 L244.4 303.2 L245.4 304.4 L246.4 305.6 L247.4 306.8 L248.4 307.9 L249.4 308.9 L250.4 309.8 L251.4 310.8 L252.4 311.8 L253.4 312.9 L254.4 314.2 L255.4 315.5 L256.4 317.0 L257.4 318.5 L258.4 319.9 L259.4 321.2 L260.4 322.4 L261.4 323.3 L262.4 324.1 L263.4 324.9 L264.4 325.7 L265.4 326.6 L266.4 327.7 L267.4 329.1 L268.4 330.7 L269.4 332.4 L270.4 334.1 L271.4 335.7 L272.4 337.1 L273.4 338.2 L274.4 339.0 L275.4 339.7 L276.4 340.3 L277.4 341.0 L278.4 342.0 L279.4 343.1 L280.4 344.6 L281.4 346.2 L282.4 348.0 L283.4 349.8 L284.4 351.4 L285.4 352.8 L286.4 353.9 L287.4 354.7 L288.4 355.4 L289.4 356.1 L290.4 356.8 L291.4 357.7 L292.4 358.9 L293.4 360.4 L294.4 362.1 L295.4 363.8 L296.4 365.6 L297.4 367.2 L298.4 368.6 L299.4 369.7 L300.4 370.6 L301.4 371.3 L302.4 372.0 L303.4 372.7 L304.4 373.6 L305.4 374.8 L306.4 376.3 L307.4 378.0 L308.4 379.8 L309.4 381.6 L310.4 383.2 L311.4 384.6 L312.4 385.7 L313.4 386.6 L314.4 387.3 L315.4 387.9 L316.4 388.6 L317.4 389.6 L318.4 390.8 L319.4 392.2 L320.4 393.9 L321.4 395.7 L322.4 397.5 L323.4 399.1 L324.4 400.5 L325.4 401.6 L326.4 402.4 L327.4 403.1 L328.4 403.7 L329.4 404.4 L330.4 405.4 L331.4 406.5 L332.4 408.0 L333.4 409.6 L334.4 411.4 L335.4 413.1 L336.4 414.7 L337.4 416.1 L338.4 417.1 L339.4 417.9 L340.4 418.6 L341.4 419.2 L342.4 419.9 L343.4 420.7 L344.4 421.9 L345.4 423.3 L346.4 424.9 L347.4 426.6 L348.4 428.3 L349.4 429.8 L350.4 431.2 L351.4 432.2 L352.4 432.9 L353.4 433.5 L354.4 434.1 L355.4 434.7 L356.4 435.5 L357.4 436.6 L358.4 438.0 L359.4 439.5 L360.4 441.2 L361.4 442.8 L362.4 444.3 L363.4 445.5 L364.4 446.5 L365.4 447.2 L366.4 447.7 L367.4 448.2 L368.4 448.7 L369.4 449.5 L370.4 450.5 L371.4 451.8 L372.4 453.2 L373.4 454.8 L374.4 456.4 L375.4 457.8 L376.4 458.9 L377.4 459.8 L378.4 460.4 L379.4 460.9 L380.4 461.3 L381.4 461.7 L382.4 462.4 L383.4 463.3 L384.4 464.5 L385.4 465.9 L386.4 467.4 L387.4 468.8 L388.4 470.1 L389.4 471.2 L390.4 472.0 L391.4 472.5 L392.4 472.8 L393.4 473.1 L394.4 473.5 L395.4 474.0 L396.4 474.8 L397.4 475.9 L398.4 477.2 L399.4 478.6 L400.4 479.9 L401.4 481.1 L402.4 482.1 L403.4 482.8 L404.4 483.2 L405.4 483.4 L406.4 483.6 L407.4 483.9 L408.4 484.3 L409.4 485.0 L410.4 486.0 L411.4 487.2 L412.4 488.5 L413.4 489.7 L414.4 490.8 L415.4 491.7 L416.4 492.3 L417.4 492.6 L418.4 492.8 L419.4 492.9 L420.4 493.0 L421.4 493.4 L422.4 494.1 L423.4 495.0 L424.4 496.0 L425.4 497.2 L426.4 498.3 L427.4 499.3 L428.4 500.1 L429.4 500.6 L430.4 500.8 L431.4 501.0 L432.4 501.1 L433.4 501.3 L434.4 501.6 L435.4 502.2 L436.4 503.0 L437.4 503.9 L438.4 504.9 L439.4 505.9 L440.4 506.7 L441.4 507.3 L442.4 507.8 L443.4 508.0 L444.4 508.2 L445.4 508.3 L446.4 508.5 L447.4 508.8 L448.4 509.3 L449.4 510.0 L450.4 510.8 L451.4 511.6 L452.4 512.5 L453.4 513.2 L454.4 513.7 L455.4 514.1 L456.4 514.4 L457.4 514.5 L458.4 514.7 L459.4 514.9 L460.4 515.2 L461.4 515.7 L462.4 516.3 L463.4 516.9 L464.4 517.6 L465.4 518.3 L466.4 518.9 L467.4 519.3 L468.4 519.7 L469.4 520.0 L470.4 520.2 L471.4 520.4 L472.4 520.6 L473.4 520.9 L474.4 521.3 L475.4 521.8 L476.4 522.3 L477.4 522.9 L478.4 523.4 L479.4 523.9 L480.4 524.3 L481.4 524.6 L482.4 524.9 L483.4 525.2 L484.4 525.4 L485.4 525.7 L486.4 526.0 L487.4 526.4 L488.4 526.8 L489.4 527.2 L490.4 527.6 L491.4 528.0 L492.4 528.4 L493.4 528.7 L494.4 529.0 L495.4 529.3 L496.4 529.6 L497.4 529.9 L498.4 530.2 L499.4 530.6 L500.4 530.9 L501.4 531.2 L502.4 531.5 L503.4 531.8 L504.4 532.1 L505.4 532.4 L506.4 532.7" stroke="#ff0000" stroke-dasharray="17.85 7.72" stroke-dashoffset="2"/>
<path d="M507.4 533.0 L508.4 533.3 L509.4 533.6 L510.4 533.9 L511.4 534.2 L512.4 534.5 L513.4 534.8 L514.4 535.0 L515.4 535.3 L516.4 535.6 L517.4 535.9 L518.4 536.1 L519.4 536.4 L520.4 536.7 L521.4 536.9 L522.4 537.2 L523.4 537.5 L524.4 537.7 L525.4 538.0 L526.4 538.2 L527.4 538.5 L528.4 538.7 L529.4 539.0 L530.4 539.2 L531.4 539.5 L532.4 539.7 L533.4 539.9 L534.4 540.2 L535.4 540.4 L536.4 540.7 L537.4 540.9 L538.4 541.1 L539.4 541.3 L540.4 541.6 L541.4 541.8 L542.4 542.0 L543.4 542.2 L544.4 542.5 L545.4 542.7 L546.4 542.9 L547.4 543.1 L548.4 543.3 L549.4 543.6 L550.4 543.8 L551.4 544.0 L552.4 544.2 L553.4 544.4 L554.4 544.6 L555.4 544.8 L556.4 545.0 L557.4 545.2 L558.4 545.4 L559.4 545.6 L560.4 545.8 L561.4 546.0 L562.4 546.2 L563.4 546.4 L564.4 546.6 L565.4 546.8 L566.4 547.0 L567.4 547.2 L568.4 547.4 L569.4 547.6 L570.4 547.8 L571.4 547.9 L572.4 548.1 L573.4 548.3 L574.4 548.5 L575.4 548.7 L576.4 548.9 L577.4 549.1 L578.4 549.2 L579.4 549.4 L580.4 549.6 L581.4 549.8 L582.4 550.0 L583.4 550.2 L584.4 550.3 L585.4 550.5 L586.4 550.7 L587.4 550.9 L588.4 551.0 L589.4 551.2 L590.4 551.4 L591.4 551.6 L592.4 551.7 L593.4 551.9 L594.4 552.1 L595.4 552.3 L596.4 552.4 L597.4 552.6 L598.4 552.8 L599.4 552.9 L600.4 553.1 L601.4 553.3 L602.4 553.4 L603.4 553.6 L604.4 553.8 L605.4 553.9 L606.4 554.1 L607.4 554.3 L608.4 554.4 L609.4 554.6 L610.4 554.7 L611.4 554.9 L612.4 555.1 L613.4 555.2 L614.4 555.4 L615.4 555.5 L616.4 555.7 L617.4 555.9 L618.4 556.0 L619.4 556.2 L620.4 556.3 L621.4 556.5 L622.4 556.6 L623.4 556.8 L624.4 556.9 L625.4 557.1 L626.4 557.2 L627.4 557.4 L628.4 557.5 L629.4 557.7 L630.4 557.8 L631.4 558.0 L632.4 558.1 L633.4 558.2 L634.4 558.4 L635.4 558.5 L636.4 558.7 L637.4 558.8 L638.4 559.0 L639.4 559.1 L640.4 559.2 L641.4 559.4 L642.4 559.5 L643.4 559.7 L644.4 559.8 L645.4 559.9 L646.4 560.1 L647.4 560.2 L648.4 560.3 L649.4 560.5 L650.4 560.6 L651.4 560.7 L652.4 560.9 L653.4 561.0 L654.4 561.1 L655.4 561.2 L656.4 561.4 L657.4 561.5 L658.4 561.6 L659.4 561.8 L660.4 561.9 L661.4 562.0 L662.4 562.1 L663.4 562.3 L664.4 562.4 L665.4 562.5 L666.4 562.6 L667.4 562.7 L668.4 562.9 L669.4 563.0 L670.4 563.1 L671.4 563.2 L672.4 563.3 L673.4 563.4 L674.4 563.6 L675.4 563.7 L676.4 563.8 L677.4 563.9 L678.4 564.0 L679.4 564.1 L680.4 564.2 L681.4 564.4 L682.4 564.5 L683.4 564.6 L684.4 564.7 L685.4 564.8 L686.4 564.9 L687.4 565.0 L688.4 565.1 L689.4 565.2 L690.4 565.3 L691.4 565.4 L692.4 565.5 L693.4 565.6 L694.4 565.7 L695.4 565.8 L696.4 565.9 L697.4 566.0 L698.4 566.1 L699.4 566.2 L700.4 566.3 L701.4 566.4 L702.4 566.5 L703.4 566.6 L704.4 566.7 L705.4 566.8 L706.4 566.9 L707.4 567.0 L708.4 567.1 L709.4 567.2 L710.4 567.3 L711.4 567.3 L712.4 567.4 L713.4 567.5 L714.4 567.6 L715.4 567.7 L716.4 567.8 L717.4 567.9 L718.4 568.0 L719.4 568.0 L720.4 568.1 L721.4 568.2 L722.4 568.3 L723.4 568.4 L724.4 568.5 L725.4 568.5 L726.4 568.6 L727.4 568.7 L728.4 568.8 L729.4 568.9 L730.4 568.9 L731.4 569.0 L732.4 569.1 L733.4 569.2 L734.4 569.2 L735.4 569.3 L736.4 569.4 L737.4 569.5 L738.4 569.5 L739.4 569.6 L740.4 569.7 L741.4 569.7 L742.4 569.8 L743.4 569.9 L744.4 570.0 L745.4 570.0 L746.4 570.1 L747.4 570.2 L748.4 570.2 L749.4 570.3 L750.4 570.4 L751.4 570.4 L752.4 570.5 L753.4 570.6 L754.4 570.6 L755.4 570.7 L756.4 570.7 L757.4 570.8 L758.4 570.9 L759.4 570.9 L760.4 571.0 L761.4 571.1 L762.4 571.1 L763.4 571.2 L764.4 571.2 L765.4 571.3 L766.4 571.3 L767.4 571.4 L768.4 571.5 L769.4 571.5 L770.4 571.6 L771.4 571.6 L772.4 571.7 L773.4 571.7 L774.4 571.8 L775.4 571.9 L776.4 571.9 L777.4 572.0 L778.4 572.0 L779.4 572.1 L780.4 572.1 L781.4 572.2 L782.4 572.2 L783.4 572.3 L784.4 572.3 L785.4 572.4 L786.4 572.4 L787.4 572.5 L788.4 572.5 L789.4 572.6 L790.4 572.6 L791.4 572.6 L792.4 572.7 L793.4 572.7 L794.4 572.8 L795.4 572.8 L796.4 572.9 L797.4 572.9 L798.4 573.0 L799.4 573.0 L800.4 573.1 L801.4 573.1 L802.4 573.1 L803.4 573.2 L804.4 573.2 L805.4 573.3 L806.4 573.3 L807.4 573.3 L808.4 573.4 L809.4 573.4 L810.4 573.5 L811.4 573.5 L812.4 573.5 L813.4 573.6 L814.4 573.6 L815.4 573.7 L816.2 573.7" stroke="#ff0000" stroke-dasharray="17.85 7.72" stroke-dashoffset="20.30"/>
<path d="M816.2 573.7 L820.2 573.8 L824.3 574.0 L828.3 574.1 L832.4 574.2 L836.4 574.4 L840.4 574.5 L844.5 574.6 L848.5 574.7 L852.6 574.8 L856.6 574.9 L860.6 575.1 L864.7 575.2 L868.7 575.3 L872.8 575.3 L876.8 575.4" stroke="#ff0000"/>
<path d="M882.3 575.6 L885.9 575.6 L889.6 575.7 L893.2 575.8 L896.9 575.9 L900.5 575.9 L904.2 576.0 L907.8 576.1 L911.5 576.2 L915.1 576.2 L918.7 576.3 L922.4 576.4 L926.0 576.5 L929.7 576.5 L933.3 576.6 L937.0 576.7 L940.6 576.7 L944.3 576.8 L947.9 576.9 L951.6 577.0 L955.2 577.0 L958.8 577.1 L962.5 577.2 L966.1 577.3 L969.8 577.4 L973.4 577.4 L977.1 577.5 L980.7 577.6 L984.4 577.7 L988.0 577.8" stroke="#ff0000" stroke-dasharray="10.5 7.4 14.9 7.4 17.85 7.7 17.85 7.7 17.85 7.7"/>
<path d="M126.4 172.7 L128.4 174.3 L130.4 175.9 L132.4 177.5 L134.4 179.1 L136.4 180.8 L138.4 182.4 L140.4 184.0 L142.4 185.7 L144.4 187.4 L146.4 189.0 L148.4 190.7 L150.4 192.4 L152.4 194.1 L154.4 195.8 L156.4 197.6 L158.4 199.3 L160.4 201.0 L162.4 202.8 L164.4 204.5 L166.4 206.3 L168.4 208.0 L170.4 209.8 L172.4 211.6 L174.4 213.4 L176.4 215.2 L178.4 216.9 L180.4 218.8 L182.4 220.6 L184.4 222.4 L186.4 224.2 L188.4 226.0 L190.4 227.9 L192.4 229.7 L194.4 231.5 L196.4 233.4 L198.4 235.2 L200.4 237.1 L202.4 238.9 L204.4 240.8 L206.4 242.7 L208.4 244.6 L210.4 246.4 L212.4 248.3 L214.4 250.2 L216.4 252.1 L218.4 254.0 L220.4 255.9 L222.4 257.8 L224.4 259.7 L226.4 261.6 L228.4 263.5 L230.4 265.4 L232.4 267.3 L234.4 269.2 L236.4 271.1 L238.4 273.0 L240.4 274.9 L242.4 276.8 L244.4 278.8 L246.4 280.7 L248.4 282.6 L250.4 284.5 L252.4 286.4 L254.4 288.3 L256.4 290.3 L258.4 292.2 L260.4 294.1 L262.4 296.0 L264.4 297.9 L266.4 299.9 L268.4 301.8 L270.4 303.7 L272.4 305.6 L274.4 307.5 L276.4 309.4 L278.4 311.3 L280.4 313.3 L282.4 315.2 L284.4 317.1 L286.4 319.0 L288.4 320.9 L290.4 322.8 L292.4 324.7 L294.4 326.6 L296.4 328.4 L298.4 330.3 L300.4 332.2 L302.4 334.1 L304.4 336.0 L306.4 337.8 L308.4 339.7 L310.4 341.6 L312.4 343.4 L314.4 345.3 L316.4 347.1 L318.4 349.0 L320.4 350.8 L322.4 352.7 L324.4 354.5 L326.4 356.3 L328.4 358.1 L330.4 359.9 L332.4 361.8 L334.4 363.6 L336.4 365.3 L338.4 367.1 L340.4 368.9 L342.4 370.7 L344.4 372.5 L346.4 374.2 L348.4 376.0 L350.4 377.7 L352.4 379.5 L354.4 381.2 L356.4 382.9 L358.4 384.6 L360.4 386.3 L362.4 388.0 L364.4 389.7 L366.4 391.4 L368.4 393.1 L370.4 394.8 L372.4 396.4 L374.4 398.1 L376.4 399.7 L378.4 401.3 L380.4 403.0 L382.4 404.6 L384.4 406.2 L386.4 407.8 L388.4 409.3 L390.4 410.9 L392.4 412.5 L394.4 414.1 L396.4 415.6 L398.4 417.2 L400.4 418.7 L402.4 420.2 L404.4 421.7 L406.4 423.3 L408.4 424.8 L410.4 426.3 L412.4 427.8 L414.4 429.3 L416.4 430.7 L418.4 432.2 L420.4 433.7 L422.4 435.1 L424.4 436.6 L426.4 438.1 L428.4 439.5 L430.4 440.9 L432.4 442.4 L434.4 443.8 L436.4 445.2 L438.4 446.6 L440.4 448.0 L442.4 449.5 L444.4 450.9 L446.4 452.3 L448.4 453.6 L450.4 455.0 L452.4 456.4 L454.4 457.8 L456.4 459.2 L458.4 460.5 L460.4 461.9 L462.4 463.2 L464.4 464.6 L466.4 465.9 L468.4 467.3 L470.4 468.6 L472.4 470.0 L474.4 471.3 L476.4 472.6 L478.4 473.9 L480.4 475.2 L482.4 476.5 L484.4 477.8 L486.4 479.1 L488.4 480.4 L490.4 481.7 L492.4 483.0 L494.4 484.3 L496.4 485.5 L498.4 486.8 L500.4 488.1 L502.4 489.3 L504.4 490.6 L506.4 491.8 L508.4 493.0 L510.4 494.3 L512.4 495.5 L514.4 496.7 L516.4 497.9 L518.4 499.1 L520.4 500.4 L522.4 501.6 L524.4 502.8 L526.4 503.9 L528.4 505.1 L530.4 506.3 L532.4 507.5 L534.4 508.7 L536.4 509.8 L538.4 511.0 L540.4 512.1 L542.4 513.3 L544.4 514.4 L546.4 515.6 L548.4 516.7 L550.4 517.8 L552.4 518.9 L554.4 520.0 L556.4 521.1 L558.4 522.2 L560.4 523.3 L562.4 524.4 L564.4 525.5 L566.4 526.6 L568.4 527.6 L570.4 528.7 L572.4 529.7 L574.4 530.8 L576.4 531.8 L578.4 532.8 L580.4 533.9 L582.4 534.9 L584.4 535.9 L586.4 536.9 L588.4 537.9 L590.4 538.9 L592.4 539.8 L594.4 540.8 L596.4 541.8 L598.4 542.7 L600.4 543.7 L602.4 544.6 L604.4 545.5 L606.4 546.4 L608.4 547.3 L610.4 548.2 L612.4 549.1 L614.4 550.0 L616.4 550.9 L618.4 551.8 L620.4 552.6 L622.4 553.5 L624.4 554.3 L626.4 555.1 L628.4 556.0 L630.4 556.8 L632.4 557.6 L634.4 558.4 L636.4 559.1 L638.4 559.9 L640.4 560.7 L642.4 561.4 L644.4 562.2 L646.4 562.9 L648.4 563.6 L650.4 564.3 L652.4 565.0 L654.4 565.7 L656.4 566.4 L658.4 567.1 L660.4 567.8 L662.4 568.4 L664.4 569.1 L666.4 569.7 L668.4 570.3 L670.4 571.0 L672.4 571.6 L674.4 572.2 L676.4 572.8 L678.4 573.4 L680.4 573.9 L682.4 574.5 L684.4 575.1 L686.4 575.7 L688.4 576.2 L690.4 576.8 L692.4 577.3 L694.4 577.8 L696.4 578.3 L698.4 578.9 L700.4 579.4 L702.4 579.9 L704.4 580.4 L706.4 580.9 L708.4 581.4 L710.4 581.9 L712.4 582.3 L714.4 582.8 L716.4 583.3 L718.4 583.7 L720.4 584.2 L722.4 584.6 L724.4 585.1 L726.4 585.5 L728.4 586.0 L730.4 586.4 L732.4 586.8 L734.4 587.3 L736.4 587.7 L738.4 588.1 L740.4 588.5 L742.4 588.9 L744.4 589.3 L746.4 589.7 L748.4 590.1 L750.4 590.5 L752.4 590.9 L754.4 591.2 L756.4 591.6 L758.4 592.0 L760.4 592.3 L762.4 592.7 L764.4 593.1 L766.4 593.4 L768.4 593.8 L770.4 594.1 L772.4 594.5 L774.4 594.8 L776.4 595.1 L778.4 595.5 L780.4 595.8 L782.4 596.1 L784.4 596.4 L786.4 596.7 L788.4 597.0 L790.4 597.4 L792.4 597.7 L794.4 598.0 L796.4 598.3 L798.4 598.6 L800.4 598.8 L802.4 599.1 L804.4 599.4 L806.4 599.7 L808.4 600.0 L810.4 600.2 L812.4 600.5 L814.4 600.8 L816.4 601.1 L818.4 601.3 L820.4 601.6 L822.4 601.8 L824.4 602.1 L826.4 602.3 L828.4 602.6 L830.4 602.8 L832.4 603.1 L834.4 603.3 L836.4 603.5 L838.4 603.8 L840.4 604.0 L842.4 604.2 L844.4 604.5 L846.4 604.7 L848.4 604.9 L850.4 605.1 L852.4 605.3 L854.4 605.6 L856.4 605.8 L858.4 606.0 L860.4 606.2 L862.4 606.4 L864.4 606.6 L866.4 606.8 L868.4 607.0 L870.4 607.2 L872.4 607.4 L874.4 607.6 L876.4 607.8 L878.4 608.0 L880.4 608.2 L882.4 608.3 L884.4 608.5 L886.4 608.7 L888.4 608.9 L890.4 609.1 L892.4 609.2 L894.4 609.4 L896.4 609.6 L898.4 609.8 L900.4 609.9 L902.4 610.1 L904.4 610.3 L906.4 610.5 L908.4 610.6 L910.4 610.8 L912.4 611.0 L914.4 611.1 L916.4 611.3 L918.4 611.4 L920.4 611.6 L922.4 611.8 L924.4 611.9 L926.4 612.1 L928.4 612.2 L930.4 612.4 L932.4 612.5 L934.4 612.7 L936.4 612.9 L938.4 613.0 L940.4 613.2 L942.4 613.3 L944.4 613.5 L946.4 613.6 L948.4 613.8 L950.4 613.9 L952.4 614.1 L954.4 614.2 L956.4 614.4 L958.4 614.5 L960.4 614.7 L962.4 614.8 L964.4 615.0 L966.4 615.1 L968.4 615.3 L970.4 615.4 L972.4 615.6 L974.4 615.7 L976.4 615.8 L978.4 616.0 L980.4 616.1 L982.4 616.3 L984.4 616.4 L986.4 616.6 L988.0 616.7" stroke="#00bfbf" stroke-linecap="square"/>
<path d="M126.4 183.2 L128.4 185.0 L130.4 186.8 L132.4 188.6 L134.4 190.4 L136.4 192.2 L138.4 194.0 L140.4 195.9 L142.4 197.7 L144.4 199.5 L146.4 201.4 L148.4 203.2 L150.4 205.1 L152.4 206.9 L154.4 208.8 L156.4 210.6 L158.4 212.5 L160.4 214.4 L162.4 216.3 L164.4 218.1 L166.4 220.0 L168.4 221.9 L170.4 223.8 L172.4 225.7 L174.4 227.6 L176.4 229.5 L178.4 231.4 L180.4 233.3 L182.4 235.2 L184.4 237.1 L186.4 239.0 L188.4 240.9 L190.4 242.8 L192.4 244.7 L194.4 246.6 L196.4 248.5 L198.4 250.4 L200.4 252.3 L202.4 254.2 L204.4 256.1 L206.4 258.0 L208.4 259.9 L210.4 261.8 L212.4 263.7 L214.4 265.7 L216.4 267.6 L218.4 269.5 L220.4 271.4 L222.4 273.3 L224.4 275.2 L226.4 277.1 L228.4 279.0 L230.4 280.8 L232.4 282.7 L234.4 284.6 L236.4 286.5 L238.4 288.4 L240.4 290.3 L242.4 292.1 L244.4 294.0 L246.4 295.9 L248.4 297.7 L250.4 299.6 L252.4 301.5 L254.4 303.3 L256.4 305.2 L258.4 307.0 L260.4 308.8 L262.4 310.7 L264.4 312.5 L266.4 314.3 L268.4 316.1 L270.4 317.9 L272.4 319.7 L274.4 321.5 L276.4 323.3 L278.4 325.1 L280.4 326.9 L282.4 328.7 L284.4 330.4 L286.4 332.2 L288.4 334.0 L290.4 335.7 L292.4 337.4 L294.4 339.2 L296.4 340.9 L298.4 342.6 L300.4 344.3 L302.4 346.0 L304.4 347.7 L306.4 349.4 L308.4 351.0 L310.4 352.7 L312.4 354.4 L314.4 356.0 L316.4 357.6 L318.4 359.3 L320.4 360.9 L322.4 362.5 L324.4 364.1 L326.4 365.7 L328.4 367.2 L330.4 368.8 L332.4 370.4 L334.4 371.9 L336.4 373.4 L338.4 375.0 L340.4 376.5 L342.4 378.0 L344.4 379.5 L346.4 381.0 L348.4 382.4 L350.4 383.9 L352.4 385.4 L354.4 386.8 L356.4 388.2 L358.4 389.6 L360.4 391.0 L362.4 392.4 L364.4 393.8 L366.4 395.2 L368.4 396.6 L370.4 397.9 L372.4 399.3 L374.4 400.6 L376.4 401.9 L378.4 403.2 L380.4 404.5 L382.4 405.8 L384.4 407.1 L386.4 408.3 L388.4 409.6 L390.4 410.9 L392.4 412.1 L394.4 413.3 L396.4 414.5 L398.4 415.7 L400.4 416.9 L402.4 418.1 L404.4 419.3 L406.4 420.5 L408.4 421.6 L410.4 422.8 L412.4 423.9 L414.4 425.0 L416.4 426.1 L418.4 427.2 L420.4 428.3 L422.4 429.4 L424.4 430.5 L426.4 431.6 L428.4 432.6 L430.4 433.7 L432.4 434.7 L434.4 435.7 L436.4 436.7 L438.4 437.7 L440.4 438.7 L442.4 439.7 L444.4 440.7 L446.4 441.7 L448.4 442.6 L450.4 443.6 L452.4 444.5 L454.4 445.5 L456.4 446.4 L458.4 447.3 L460.4 448.2 L462.4 449.1 L464.4 450.0 L466.4 450.9 L468.4 451.8 L470.4 452.6 L472.4 453.5 L474.4 454.3 L476.4 455.2 L478.4 456.0 L480.4 456.8 L482.4 457.7 L484.4 458.5 L486.4 459.3 L488.4 460.1 L490.4 460.9 L492.4 461.6 L494.4 462.4 L496.4 463.2 L498.4 463.9 L500.4 464.7 L502.4 465.4 L504.4 466.2 L506.4 466.9 L508.4 467.6 L510.4 468.3 L512.4 469.0 L514.4 469.7 L516.4 470.4 L518.4 471.1 L520.4 471.8 L522.4 472.5 L524.4 473.1 L526.4 473.8 L528.4 474.4 L530.4 475.1 L532.4 475.7 L534.4 476.4 L536.4 477.0 L538.4 477.6 L540.4 478.3 L542.4 478.9 L544.4 479.5 L546.4 480.1 L548.4 480.7 L550.4 481.3 L552.4 481.8 L554.4 482.4 L556.4 483.0 L558.4 483.6 L560.4 484.1 L562.4 484.7 L564.4 485.3 L566.4 485.8 L568.4 486.3 L570.4 486.9 L572.4 487.4 L574.4 487.9 L576.4 488.5 L578.4 489.0 L580.4 489.5 L582.4 490.0 L584.4 490.5 L586.4 491.0 L588.4 491.5 L590.4 492.0 L592.4 492.5 L594.4 492.9 L596.4 493.4 L598.4 493.9 L600.4 494.4 L602.4 494.8 L604.4 495.3 L606.4 495.7 L608.4 496.2 L610.4 496.6 L612.4 497.1 L614.4 497.5 L616.4 497.9 L618.4 498.3 L620.4 498.8 L622.4 499.2 L624.4 499.6 L626.4 500.0 L628.4 500.4 L630.4 500.8 L632.4 501.2 L634.4 501.6 L636.4 502.0 L638.4 502.4 L640.4 502.7 L642.4 503.1 L644.4 503.5 L646.4 503.8 L648.4 504.2 L650.4 504.6 L652.4 504.9 L654.4 505.3 L656.4 505.6 L658.4 506.0 L660.4 506.3 L662.4 506.6 L664.4 507.0 L666.4 507.3 L668.4 507.6 L670.4 508.0 L672.4 508.3 L674.4 508.6 L676.4 508.9 L678.4 509.2 L680.4 509.5 L682.4 509.8 L684.4 510.1 L686.4 510.4 L688.4 510.7 L690.4 511.0 L692.4 511.3 L694.4 511.6 L696.4 511.9 L698.4 512.2 L700.4 512.4 L702.4 512.7 L704.4 513.0 L706.4 513.2 L708.4 513.5 L710.4 513.8 L712.4 514.0 L714.4 514.3 L716.4 514.5 L718.4 514.8 L720.4 515.0 L722.4 515.3 L724.4 515.5 L726.4 515.8 L728.4 516.0 L730.4 516.2 L732.4 516.5 L734.4 516.7 L736.4 516.9 L738.4 517.2 L740.4 517.4 L742.4 517.6 L744.4 517.8 L746.4 518.1 L748.4 518.3 L750.4 518.5 L752.4 518.7 L754.4 518.9 L756.4 519.1 L758.4 519.4 L760.4 519.6 L762.4 519.8 L764.4 520.0 L766.4 520.2 L768.4 520.4 L770.4 520.6 L772.4 520.8 L774.4 521.0 L776.4 521.2 L778.4 521.4 L780.4 521.6 L782.4 521.7 L784.4 521.9 L786.4 522.1 L788.4 522.3 L790.4 522.5 L792.4 522.7 L794.4 522.9 L796.4 523.0 L798.4 523.2 L800.4 523.4 L802.4 523.6 L804.4 523.8 L806.4 524.0 L808.4 524.1 L810.4 524.3 L812.4 524.5 L814.4 524.7 L816.4 524.8 L818.4 525.0 L820.4 525.2 L822.4 525.3 L824.4 525.5 L826.4 525.7 L828.4 525.8 L830.4 526.0 L832.4 526.2 L834.4 526.3 L836.4 526.5 L838.4 526.7 L840.4 526.8 L842.4 527.0 L844.4 527.1 L846.4 527.3 L848.4 527.5 L850.4 527.6 L852.4 527.8 L854.4 527.9 L856.4 528.1 L858.4 528.2 L860.4 528.4 L862.4 528.5 L864.4 528.6 L866.4 528.8 L868.4 528.9 L870.4 529.1 L872.4 529.2 L874.4 529.3 L876.4 529.5 L878.4 529.6 L880.4 529.7 L882.4 529.9 L884.4 530.0 L886.4 530.1 L888.4 530.3 L890.4 530.4 L892.4 530.5 L894.4 530.6 L896.4 530.7 L898.4 530.9 L900.4 531.0 L902.4 531.1 L904.4 531.2 L906.4 531.3 L908.4 531.4 L910.4 531.5 L912.4 531.6 L914.4 531.7 L916.4 531.8 L918.4 531.9 L920.4 532.0 L922.4 532.1 L924.4 532.2 L926.4 532.3 L928.4 532.4 L930.4 532.5 L932.4 532.6 L934.4 532.7 L936.4 532.8 L938.4 532.8 L940.4 532.9 L942.4 533.0 L944.4 533.1 L946.4 533.2 L948.4 533.2 L950.4 533.3 L952.4 533.4 L954.4 533.4 L956.4 533.5 L958.4 533.6 L960.4 533.6 L962.4 533.7 L964.4 533.7 L966.4 533.8 L968.4 533.8 L970.4 533.9 L972.4 533.9 L974.4 534.0 L976.4 534.0 L978.4 534.0 L980.4 534.1 L982.4 534.1 L984.4 534.1 L986.4 534.2 L988.0 534.2" stroke="#00bfbf" stroke-dasharray="17.85 7.72" stroke-dashoffset="2.0"/>
</g>
<g stroke="#b0b0b0" stroke-width="1.93" fill="none">
<line x1="298.72" y1="20.5" x2="298.72" y2="662.2"/>
<line x1="471.04" y1="20.5" x2="471.04" y2="662.2"/>
<line x1="643.36" y1="20.5" x2="643.36" y2="662.2"/>
<line x1="815.68" y1="20.5" x2="815.68" y2="662.2"/>
<line x1="126.4" y1="234.40" x2="988.0" y2="234.40"/>
<line x1="126.4" y1="448.30" x2="988.0" y2="448.30"/>
</g>
<circle cx="514.12" cy="500.6" r="10.86" fill="#bfbf00" stroke="#000" stroke-width="2.41"/>
<circle cx="384.88" cy="410.7" r="10.86" fill="#0000ff" stroke="#000" stroke-width="2.41"/>
<g stroke="#000" stroke-width="1.93">
<line x1="126.40" y1="662.2" x2="126.40" y2="670.64"/>
<line x1="298.72" y1="662.2" x2="298.72" y2="670.64"/>
<line x1="471.04" y1="662.2" x2="471.04" y2="670.64"/>
<line x1="643.36" y1="662.2" x2="643.36" y2="670.64"/>
<line x1="815.68" y1="662.2" x2="815.68" y2="670.64"/>
<line x1="988.00" y1="662.2" x2="988.00" y2="670.64"/>
<line x1="126.4" y1="20.50" x2="117.96" y2="20.50"/>
<line x1="126.4" y1="234.40" x2="117.96" y2="234.40"/>
<line x1="126.4" y1="448.30" x2="117.96" y2="448.30"/>
<line x1="126.4" y1="662.20" x2="117.96" y2="662.20"/>
</g>
<g stroke="#000" stroke-width="1.45">
<line x1="126.4" y1="170.01" x2="121.58" y2="170.01"/>
<line x1="126.4" y1="132.34" x2="121.58" y2="132.34"/>
<line x1="126.4" y1="105.62" x2="121.58" y2="105.62"/>
<line x1="126.4" y1="84.89" x2="121.58" y2="84.89"/>
<line x1="126.4" y1="67.95" x2="121.58" y2="67.95"/>
<line x1="126.4" y1="53.63" x2="121.58" y2="53.63"/>
<line x1="126.4" y1="41.23" x2="121.58" y2="41.23"/>
<line x1="126.4" y1="30.29" x2="121.58" y2="30.29"/>
<line x1="126.4" y1="383.91" x2="121.58" y2="383.91"/>
<line x1="126.4" y1="346.24" x2="121.58" y2="346.24"/>
<line x1="126.4" y1="319.52" x2="121.58" y2="319.52"/>
<line x1="126.4" y1="298.79" x2="121.58" y2="298.79"/>
<line x1="126.4" y1="281.85" x2="121.58" y2="281.85"/>
<line x1="126.4" y1="267.53" x2="121.58" y2="267.53"/>
<line x1="126.4" y1="255.13" x2="121.58" y2="255.13"/>
<line x1="126.4" y1="244.19" x2="121.58" y2="244.19"/>
<line x1="126.4" y1="597.81" x2="121.58" y2="597.81"/>
<line x1="126.4" y1="560.14" x2="121.58" y2="560.14"/>
<line x1="126.4" y1="533.42" x2="121.58" y2="533.42"/>
<line x1="126.4" y1="512.69" x2="121.58" y2="512.69"/>
<line x1="126.4" y1="495.75" x2="121.58" y2="495.75"/>
<line x1="126.4" y1="481.43" x2="121.58" y2="481.43"/>
<line x1="126.4" y1="469.03" x2="121.58" y2="469.03"/>
<line x1="126.4" y1="458.09" x2="121.58" y2="458.09"/>
</g>
<rect x="126.4" y="20.5" width="861.6" height="641.7" fill="none" stroke="#000" stroke-width="1.93" stroke-linejoin="miter"/>
<g font-size="24.12" text-anchor="middle">
<text x="126.40" y="697.7">8000</text>
<text x="298.72" y="697.7">10000</text>
<text x="471.04" y="697.7">12000</text>
<text x="643.36" y="697.7">14000</text>
<text x="815.68" y="697.7">16000</text>
<text x="988.00" y="697.7">18000</text>
</g>
<text x="51.5" y="30.10" font-size="24.12">10</text>
<text x="82.6" y="20.90" font-size="16.89">−5</text>
<text x="51.5" y="243.00" font-size="24.12">10</text>
<text x="82.6" y="233.80" font-size="16.89">−6</text>
<text x="51.5" y="457.90" font-size="24.12">10</text>
<text x="82.6" y="448.70" font-size="16.89">−7</text>
<text x="51.5" y="670.80" font-size="24.12">10</text>
<text x="82.6" y="661.60" font-size="16.89">−8</text>
<rect x="522.64" y="32.6" width="453.31" height="312.00" rx="4.83" ry="4.83" fill="#fff" stroke="#cccccc" stroke-width="2.41"/>
<line x1="532.3" y1="53.1" x2="580.5" y2="53.1" stroke="#bf00bf" stroke-width="4.83" stroke-linecap="square"/>
<line x1="532.3" y1="94.1" x2="580.5" y2="94.1" stroke="#bf00bf" stroke-width="4.83" stroke-dasharray="17.85 7.72"/>
<line x1="532.3" y1="135.1" x2="580.5" y2="135.1" stroke="#ff0000" stroke-width="4.83" stroke-linecap="square"/>
<line x1="532.3" y1="176.1" x2="580.5" y2="176.1" stroke="#ff0000" stroke-width="4.83" stroke-dasharray="17.85 7.72"/>
<line x1="532.3" y1="216.3" x2="580.5" y2="216.3" stroke="#00bfbf" stroke-width="4.83" stroke-linecap="square"/>
<line x1="532.3" y1="251.7" x2="580.5" y2="251.7" stroke="#00bfbf" stroke-width="4.83" stroke-dasharray="17.85 7.72"/>
<circle cx="556.40" cy="288.8" r="10.86" fill="#bfbf00" stroke="#000" stroke-width="2.41"/>
<circle cx="556.40" cy="324.2" r="10.86" fill="#0000ff" stroke="#000" stroke-width="2.41"/>
<text x="599.84" y="61.0" font-size="24.12">GPMOb, </text>
<text class="ob" x="703.54" y="61.0" font-size="24.12">N</text>
<text class="ob" x="721.58" y="64.96" font-size="16.89">adjacent</text>
<text x="800.05" y="61.0" font-size="24.12">=</text>
<text x="824.96" y="61.0" font-size="24.12">100</text>
<text x="599.84" y="102.0" font-size="24.12">GPMOb, </text>
<text class="ob" x="703.54" y="102.0" font-size="24.12">N</text>
<text class="ob" x="721.58" y="105.96" font-size="16.89">adjacent</text>
<text x="800.05" y="102.0" font-size="24.12">=</text>
<text x="824.96" y="102.0" font-size="24.12">100 (r only)</text>
<text x="599.84" y="143.1" font-size="24.12">GPMOb, </text>
<text class="ob" x="703.54" y="143.1" font-size="24.12">N</text>
<text class="ob" x="721.58" y="147.06" font-size="16.89">adjacent</text>
<text x="800.05" y="143.1" font-size="24.12">=</text>
<text x="824.96" y="143.1" font-size="24.12">7</text>
<text x="599.84" y="184.0" font-size="24.12">GPMOb, </text>
<text class="ob" x="703.54" y="184.0" font-size="24.12">N</text>
<text class="ob" x="721.58" y="187.96" font-size="16.89">adjacent</text>
<text x="800.05" y="184.0" font-size="24.12">=</text>
<text x="824.96" y="184.0" font-size="24.12">7 (r only)</text>
<text x="599.84" y="225.2" font-size="24.12">GPMO</text>
<text x="599.84" y="260.2" font-size="24.12">GPMO (r only)</text>
<text x="599.84" y="295.5" font-size="24.12">FAMUS (r only)</text>
<text x="599.84" y="331.1" font-size="24.12">Relax-and-split</text>
<text class="ser" x="7" y="315" font-size="45">f</text>
<text class="ser" x="17" y="326.2" font-size="31.5">B</text>
<text class="ser" x="450.3" y="748.3" font-size="32.2">K</text>
<text x="478.3" y="748.9" font-size="30" style="font-family:'DejaVu Math TeX Gyre','DejaVu Sans',sans-serif">≡</text>
<text class="hel" x="519" y="748.3" font-size="31.5"># of magnets</text>
</svg></body></html>
